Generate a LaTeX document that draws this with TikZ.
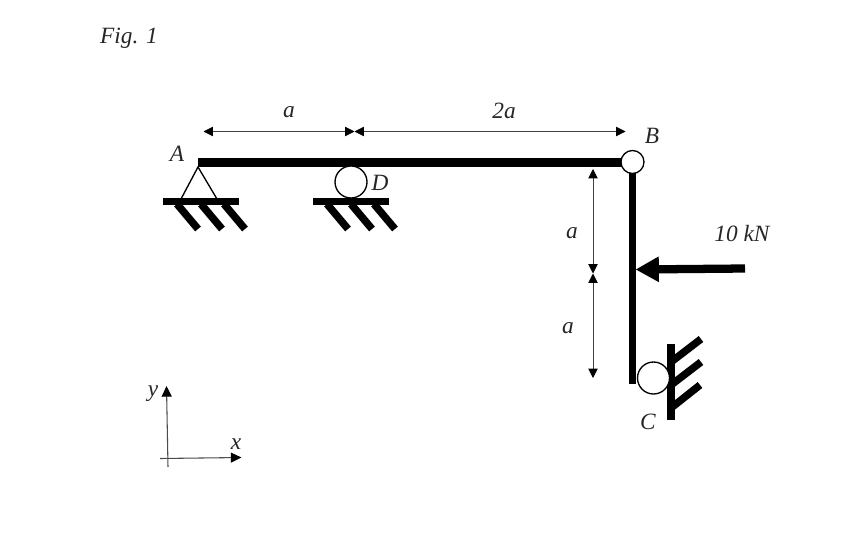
\documentclass[tikz,border=0pt]{standalone}
\usepackage{fontspec}
\setmainfont{Liberation Serif}
\usetikzlibrary{arrows.meta}
\tikzset{
  lab/.style={inner sep=0pt,font=\fontsize{17.5}{19}\selectfont\itshape,text=black!85},
  thickbar/.style={line width=6.4pt,black},
  hatch/.style={line width=5.6pt,black},
  ground/.style={line width=5pt,black},
  pin/.style={circle,draw=black,line width=1pt,fill=white,inner sep=0pt,minimum size=#1},
  dim/.style={line width=0.6pt,black!75,{Triangle[length=7pt,width=7pt,black]}-{Triangle[length=7pt,width=7pt,black]}},
  axis/.style={line width=0.8pt,black!70,-{Triangle[length=8pt,width=7.5pt,black]}}
}
\begin{document}
\begin{tikzpicture}[x=0.75pt,y=-0.75pt]
\useasboundingbox (0,0) rectangle (855,535);
% named points
\coordinate (Abeam) at (198,162.5);
\coordinate (Bbeam) at (632.5,162.5);
\coordinate (Cend) at (632.5,384);
\coordinate (Aapex) at (198,167);
\coordinate (Al) at (181,199);
\coordinate (Ar) at (217,199);
\coordinate (Agl) at (163,201.5);
\coordinate (Agr) at (239,201.5);
\coordinate (Dgl) at (313,201.5);
\coordinate (Dgr) at (389,201.5);
% beams
\draw[thickbar] (Abeam) -- (Bbeam);
\draw[thickbar,line width=5.6pt] (Bbeam) -- (Cend);
% support A
\draw[line width=1pt] (Al) -- (Aapex) -- (Ar);
\draw[ground] (Agl) -- (Agr);
\foreach \i/\dx in {1/0,2/24,3/47}{
  \coordinate (ah\i a) at ({177+\dx},204);
  \coordinate (ah\i b) at ({198+\dx},229);
  \draw[hatch] (ah\i a) -- (ah\i b);
}
% support D
\draw[ground] (Dgl) -- (Dgr);
\foreach \i/\dx in {1/0,2/24,3/47}{
  \coordinate (dh\i a) at ({327+\dx},204);
  \coordinate (dh\i b) at ({348+\dx},229);
  \draw[hatch] (dh\i a) -- (dh\i b);
}
\node[pin=32*0.75pt] (D) at (351,182) {};
% hinge B
\node[pin=23*0.75pt] (B) at (632.5,162) {};
% support C
\draw[ground,line width=5.4pt] (671,344) -- (671,420);
\draw[hatch] (671,362) -- (701,339);
\draw[hatch] (671,385) -- (701,362);
\draw[hatch] (671,408) -- (700,385);
\node[pin=32*0.75pt] (C) at (653.5,378) {};
% load
\coordinate (Ftail) at (745,268.5);
\coordinate (Ftip) at (635.5,269.5);
\draw[line width=6.2pt,-{Triangle[length=17.5pt,width=18pt]}] (Ftail) -- (Ftip);
% dimensions
\coordinate (d1) at (203.5,131.5);
\coordinate (d2) at (354.5,131.5);
\coordinate (d3) at (354.5,131.5);
\coordinate (d4) at (625.5,131.5);
\draw[dim] (d1) -- (d2);
\draw[dim] (d3) -- (d4);
\coordinate (v1) at (593,169);
\coordinate (v2) at (593,273.5);
\coordinate (v3) at (593,273.5);
\coordinate (v4) at (593,378);
\draw[dim] (v1) -- (v2);
\draw[dim] (v3) -- (v4);
% axes
\coordinate (yo) at (168,467);
\coordinate (yt) at (166.5,386);
\coordinate (xo) at (160,458.5);
\coordinate (xt) at (241.5,457.5);
\draw[axis] (yo) -- (yt);
\draw[axis] (xo) -- (xt);
% labels
\node[lab] (fig) at (129,38) {Fig. 1};
\node[lab] (la) at (177,154) {A};
\node[lab] (lb) at (652,136) {B};
\node[lab] (lc) at (648,422) {C};
\node[lab] (ld) at (380,183) {D};
\node[lab] (d1l) at (289,112) {a};
\node[lab] (d2l) at (504,111) {2a};
\node[lab] (d3l) at (572,233) {a};
\node[lab] (d4l) at (568,328) {a};
\node[lab] (force) at (742,234) {10 kN};
\node[lab] (ly) at (153,394) {y};
\node[lab] (lx) at (236,444) {x};
\end{tikzpicture}
\end{document}
